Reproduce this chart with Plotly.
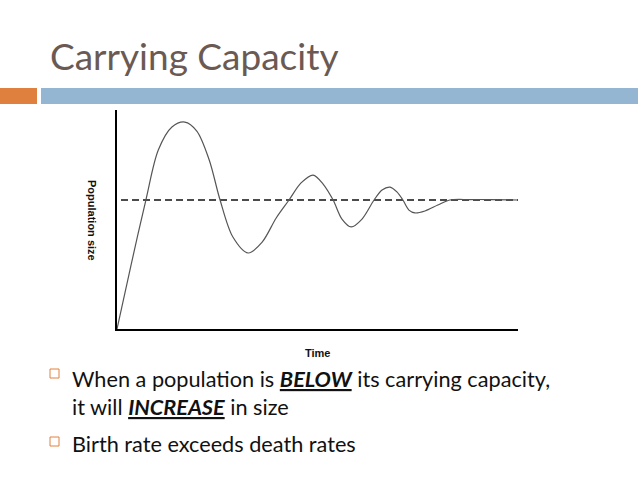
import plotly.graph_objects as go

# Population curve (time vs population size)
time = [0, 3.5, 7.2, 10.3, 13.7, 16.9, 19.9, 23.0, 25.7, 28.9, 32.7, 36.2, 39.7, 42.9,
        45.9, 48.9, 51.4, 53.9, 56.1, 58.4, 61.1, 64.1, 66.1, 68.1, 69.8, 71.3, 72.8,
        74.3, 76.8, 80.0, 83.0, 88.0, 93.0, 100]
population = [0, 29.2, 58.9, 81.7, 92.2, 94.5, 90.4, 77.2, 58.9, 42.0, 34.7, 39.7, 50.7, 58.9,
              66.7, 70.3, 66.2, 58.9, 50.2, 46.6, 50.2, 58.9, 63.5, 64.8, 62.6, 58.9, 54.3,
              53.0, 53.9, 56.6, 58.9, 59.1, 59.1, 58.9]
carrying_capacity = 58.9
k_time = [1.0, 100]

title_text = "Carrying Capacity"
x_label = "Time"
y_label = "Population size"
bullet_lines = [
    "When a population is <b><i><u>BELOW</u></i></b> its carrying capacity,",
    "it will <b><i><u>INCREASE</u></i></b> in size",
    "Birth rate exceeds death rates",
]

W, H = 638, 478
def px(x):
    return x / W
def py(y):
    return 1 - y / H

fig = go.Figure()
fig.add_trace(go.Scatter(x=k_time, y=[carrying_capacity] * len(k_time), mode="lines",
                         line=dict(color="#111111", width=1.6, dash="7px,4px"),
                         hoverinfo="skip"))
fig.add_trace(go.Scatter(x=time, y=population, mode="lines",
                         line=dict(color="#555555", width=1.2, shape="spline", smoothing=0.9),
                         hoverinfo="skip"))

body_font = "Lato"
shapes = [
    dict(type="rect", xref="paper", yref="paper", x0=0, x1=px(37), y0=py(104), y1=py(88),
         fillcolor="#E0803F", line=dict(width=0), layer="below"),
    dict(type="rect", xref="paper", yref="paper", x0=px(41), x1=1, y0=py(104), y1=py(88),
         fillcolor="#94B6D2", line=dict(width=0), layer="below"),
    dict(type="rect", xref="paper", yref="paper", x0=px(50), x1=px(59), y0=py(378), y1=py(369),
         fillcolor="rgba(0,0,0,0)", line=dict(color="#E0803F", width=1)),
    dict(type="rect", xref="paper", yref="paper", x0=px(50), x1=px(59), y0=py(446), y1=py(437),
         fillcolor="rgba(0,0,0,0)", line=dict(color="#E0803F", width=1)),
]

annotations = [
    dict(text=title_text, xref="paper", yref="paper", x=px(48), y=py(56), xanchor="left",
         yanchor="middle", showarrow=False,
         font=dict(family=body_font, size=37, color="#6B5A53")),
    dict(text=y_label, xref="paper", yref="paper", x=px(92), y=py(220), xanchor="center",
         yanchor="middle", showarrow=False, textangle=90,
         font=dict(family="Liberation Sans", size=11, color="#111111", weight="bold")),
    dict(text=x_label, xref="paper", yref="paper", x=px(317), y=py(353), xanchor="center",
         yanchor="middle", showarrow=False,
         font=dict(family="Liberation Sans", size=11, color="#111111", weight="bold")),
    dict(text=bullet_lines[0], xref="paper", yref="paper", x=px(70), y=py(379), xanchor="left",
         yanchor="middle", showarrow=False, font=dict(family=body_font, size=21.7, color="#111111")),
    dict(text=bullet_lines[1], xref="paper", yref="paper", x=px(70), y=py(407), xanchor="left",
         yanchor="middle", showarrow=False, font=dict(family=body_font, size=21.7, color="#111111")),
    dict(text=bullet_lines[2], xref="paper", yref="paper", x=px(70), y=py(444), xanchor="left",
         yanchor="middle", showarrow=False, font=dict(family=body_font, size=21.7, color="#111111")),
]

fig.update_layout(
    width=W, height=H, margin=dict(l=0, r=0, t=0, b=0),
    paper_bgcolor="white", plot_bgcolor="white", showlegend=False,
    xaxis=dict(domain=[px(117), px(518)], range=[0, 100], showgrid=False, zeroline=False,
               showticklabels=False, ticks="", showline=True, linecolor="#000000", linewidth=2),
    yaxis=dict(domain=[py(329), py(110)], range=[0, 100], showgrid=False, zeroline=False,
               showticklabels=False, ticks="", showline=True, linecolor="#000000", linewidth=2),
    shapes=shapes, annotations=annotations,
)
fig.write_html("out.html", config={"displayModeBar": False},
               post_script="document.body.style.margin='0';document.body.style.overflow='hidden';")
